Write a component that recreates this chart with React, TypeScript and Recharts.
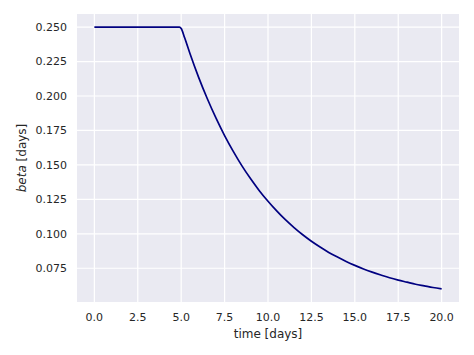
import { LineChart, Line, XAxis, YAxis, CartesianGrid } from "recharts";

// time in days, beta values
const TIME = [
  0, 0.5, 1, 1.5, 2, 2.5, 3, 3.5, 4, 4.5, 4.9, 5, 5.2, 5.5, 6, 6.5, 7, 7.5, 8,
  8.5, 9, 9.5, 10, 10.5, 11, 11.5, 12, 12.5, 13, 13.5, 14, 14.5, 15, 15.5, 16,
  16.5, 17, 17.5, 18, 18.5, 19, 19.5, 20,
];
const BETA = [
  0.25, 0.25, 0.25, 0.25, 0.25, 0.25, 0.25, 0.25, 0.25, 0.25, 0.25, 0.249,
  0.2422, 0.231, 0.2137, 0.1982, 0.1841, 0.1713, 0.1598, 0.1493, 0.1399,
  0.1313, 0.1236, 0.1166, 0.1102, 0.1045, 0.0993, 0.0946, 0.0904, 0.0865,
  0.0831, 0.0799, 0.0771, 0.0745, 0.0722, 0.0701, 0.0681, 0.0664, 0.0649,
  0.0634, 0.0622, 0.061, 0.06,
];
const X_TICKS = [0, 2.5, 5, 7.5, 10, 12.5, 15, 17.5, 20];
const Y_TICKS = [0.075, 0.1, 0.125, 0.15, 0.175, 0.2, 0.225, 0.25];

const data = TIME.map((t, i) => ({ t, beta: BETA[i] }));

const FONT = "DejaVu Sans, sans-serif";
const TEXT = "#262626";

export default function App() {
  return (
    <div style={{ position: "absolute", left: 0, top: 0, background: "#fff" }}>
      <LineChart
        width={474}
        height={355}
        data={data}
        margin={{ top: 14, right: 15, bottom: 23, left: 17 }}
      >
        <CartesianGrid
          fill="#EAEAF2"
          stroke="#ffffff"
          strokeWidth={1.2}
          verticalValues={X_TICKS}
          horizontalValues={Y_TICKS}
        />
        <XAxis
          dataKey="t"
          type="number"
          domain={[-1, 21]}
          ticks={X_TICKS}
          tickFormatter={(v: number) => v.toFixed(1)}
          axisLine={false}
          tickLine={false}
          tickMargin={5}
          height={30}
          tick={{ fill: TEXT, fontSize: 11, fontFamily: FONT }}
          label={{
            content: (props: any) => {
              const vb = props.viewBox;
              return (
                <text
                  x={vb.x + vb.width / 2}
                  y={vb.y + 32}
                  textAnchor="middle"
                  dominantBaseline="central"
                  fill={TEXT}
                  fontSize={12}
                  fontFamily={FONT}
                >
                  time [days]
                </text>
              );
            },
          }}
        />
        <YAxis
          type="number"
          domain={[0.0505, 0.2595]}
          ticks={Y_TICKS}
          tickFormatter={(v: number) => v.toFixed(3)}
          axisLine={false}
          tickLine={false}
          tickMargin={4}
          width={60}
          tick={{ fill: TEXT, fontSize: 11, fontFamily: FONT }}
          label={{
            content: (props: any) => {
              const vb = props.viewBox;
              const cx = vb.x + 5;
              const cy = vb.y + vb.height / 2;
              return (
                <text
                  x={cx}
                  y={cy}
                  transform={`rotate(-90, ${cx}, ${cy})`}
                  textAnchor="middle"
                  dominantBaseline="central"
                  fill={TEXT}
                  fontSize={12}
                  fontFamily={FONT}
                >
                  <tspan fontStyle="italic">beta</tspan> [days]
                </text>
              );
            },
          }}
        />
        <Line
          type="monotone"
          dataKey="beta"
          stroke="#000080"
          strokeWidth={1.7}
          dot={false}
          isAnimationActive={false}
        />
      </LineChart>
    </div>
  );
}
